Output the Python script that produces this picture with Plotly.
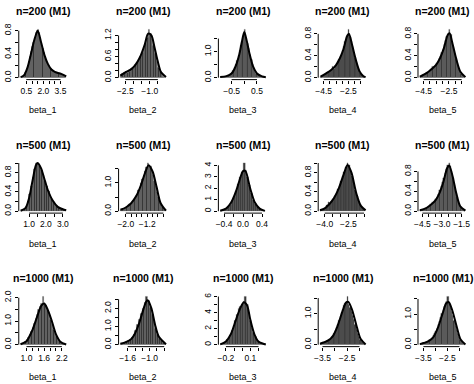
import plotly.graph_objects as go

# ---------------- data ----------------
SAMPLE_SIZES = [200, 500, 1000]
PARAMS = ["beta_1", "beta_2", "beta_3", "beta_4", "beta_5"]

# ---- n=200 ----
S200_B1, W200_B1 = 0.0, 0.1
H200_B1 = [0.01, 0.02, 0.03, 0.05, 0.09, 0.14, 0.20, 0.28, 0.36, 0.44, 0.53, 0.60, 0.68, 0.76, 0.80, 0.82,
           0.76, 0.68, 0.58, 0.50, 0.42, 0.36, 0.31, 0.26, 0.22, 0.19, 0.16, 0.14, 0.12, 0.10, 0.09, 0.08,
           0.08, 0.07, 0.07, 0.06, 0.05, 0.04, 0.03, 0.02]
DX200_B1 = [0.0, 0.3, 0.6, 0.9, 1.2, 1.5, 1.8, 2.1, 2.4, 2.7, 3.0, 3.3, 3.6, 4.0]
DY200_B1 = [0.01, 0.04, 0.17, 0.40, 0.64, 0.80, 0.60, 0.38, 0.23, 0.14, 0.10, 0.08, 0.06, 0.02]
XT200_B1 = [0.5, 1.0, 1.5, 2.0, 2.5, 3.0, 3.5]
XL200_B1 = ["0.5", "", "", "2.0", "", "", "3.5"]
YT200_B1 = [0.0, 0.2, 0.4, 0.6, 0.8]
YL200_B1 = ["0.0", "", "0.4", "", "0.8"]

S200_B2, W200_B2 = -2.8, 0.1
H200_B2 = [0.08, 0.12, 0.15, 0.17, 0.15, 0.18, 0.22, 0.27, 0.33, 0.38, 0.42, 0.50, 0.60, 0.70, 0.85, 0.98,
           1.15, 1.37, 1.25, 1.10, 0.90, 0.68, 0.45, 0.30, 0.17, 0.09, 0.04, 0.01]
DX200_B2 = [-2.8, -2.5, -2.2, -1.9, -1.6, -1.3, -1.1, -0.9, -0.7, -0.5, -0.3, 0.0]
DY200_B2 = [0.06, 0.15, 0.22, 0.35, 0.58, 0.95, 1.25, 1.20, 0.85, 0.45, 0.15, 0.02]
XT200_B2 = [-2.5, -2.0, -1.5, -1.0, -0.5]
XL200_B2 = ["\u22122.5", "", "", "\u22121.0", ""]
YT200_B2 = [0.0, 0.2, 0.4, 0.6, 0.8, 1.0, 1.2]
YL200_B2 = ["0.0", "", "", "0.6", "", "", "1.2"]

S200_B3, W200_B3 = -0.95, 0.05
H200_B3 = [0.03, 0.04, 0.05, 0.05, 0.06, 0.07, 0.09, 0.12, 0.15, 0.20, 0.28, 0.38, 0.50, 0.65, 0.85, 1.05,
           1.25, 1.40, 1.62, 1.85, 1.55, 1.30, 1.10, 0.90, 0.68, 0.50, 0.35, 0.25, 0.17, 0.12, 0.09, 0.07,
           0.05, 0.04, 0.03, 0.02]
DX200_B3 = [-0.95, -0.7, -0.5, -0.35, -0.2, -0.1, 0.0, 0.1, 0.2, 0.35, 0.5, 0.7, 0.85]
DY200_B3 = [0.03, 0.06, 0.16, 0.42, 0.88, 1.35, 1.75, 1.40, 0.95, 0.42, 0.16, 0.05, 0.02]
XT200_B3 = [-0.5, 0.0, 0.5]
XL200_B3 = ["\u22120.5", "", "0.5"]
YT200_B3 = [0.0, 0.5, 1.0, 1.5]
YL200_B3 = ["0.0", "", "1.0", ""]

S200_B4, W200_B4 = -4.8, 0.1
H200_B4 = [0.02, 0.03, 0.04, 0.05, 0.07, 0.08, 0.10, 0.11, 0.13, 0.15, 0.20, 0.17, 0.20, 0.25, 0.29, 0.33,
           0.38, 0.44, 0.50, 0.57, 0.66, 0.75, 0.78, 0.88, 0.76, 0.66, 0.56, 0.45, 0.36, 0.27, 0.20, 0.14,
           0.09, 0.06, 0.04, 0.02, 0.01]
DX200_B4 = [-4.75, -4.3, -3.9, -3.5, -3.2, -2.9, -2.6, -2.45, -2.2, -1.9, -1.6, -1.3, -1.1]
DY200_B4 = [0.02, 0.08, 0.14, 0.23, 0.35, 0.52, 0.76, 0.80, 0.60, 0.33, 0.12, 0.03, 0.01]
XT200_B4 = [-4.5, -4.0, -3.5, -3.0, -2.5, -2.0, -1.5]
XL200_B4 = ["\u22124.5", "", "", "", "\u22122.5", "", ""]
YT200_B4 = [0.0, 0.2, 0.4, 0.6, 0.8]
YL200_B4 = ["0.0", "", "0.4", "", "0.8"]

S200_B5, W200_B5 = -4.8, 0.1
H200_B5 = [0.02, 0.03, 0.05, 0.06, 0.07, 0.09, 0.10, 0.12, 0.14, 0.16, 0.20, 0.18, 0.21, 0.25, 0.29, 0.34,
           0.39, 0.45, 0.52, 0.60, 0.68, 0.76, 0.80, 0.88, 0.78, 0.66, 0.55, 0.44, 0.34, 0.25, 0.18, 0.12,
           0.08, 0.05, 0.03, 0.01]
DX200_B5 = [-4.8, -4.3, -3.9, -3.5, -3.2, -2.9, -2.6, -2.45, -2.2, -1.9, -1.6, -1.2]
DY200_B5 = [0.02, 0.08, 0.15, 0.24, 0.36, 0.54, 0.78, 0.81, 0.60, 0.32, 0.11, 0.01]
XT200_B5 = [-4.5, -4.0, -3.5, -3.0, -2.5, -2.0, -1.5]
XL200_B5 = ["\u22124.5", "", "", "", "\u22122.5", "", ""]
YT200_B5 = [0.0, 0.2, 0.4, 0.6, 0.8]
YL200_B5 = ["0.0", "", "0.4", "", "0.8"]

# ---- n=500 ----
S500_B1, W500_B1 = 0.5, 0.1
H500_B1 = [0.01, 0.02, 0.05, 0.10, 0.20, 0.35, 0.52, 0.70, 0.88, 1.00, 0.98, 0.94, 0.85, 0.74, 0.62, 0.52,
           0.42, 0.33, 0.25, 0.19, 0.14, 0.10, 0.07, 0.05, 0.04, 0.03, 0.02]
DX500_B1 = [0.5, 0.8, 1.0, 1.2, 1.4, 1.5, 1.7, 1.9, 2.1, 2.4, 2.7, 3.0, 3.2]
DY500_B1 = [0.01, 0.07, 0.27, 0.62, 0.95, 1.00, 0.90, 0.68, 0.45, 0.22, 0.09, 0.04, 0.02]
XT500_B1 = [1.0, 1.5, 2.0, 2.5, 3.0]
XL500_B1 = ["1.0", "", "2.0", "", "3.0"]
YT500_B1 = [0.0, 0.2, 0.4, 0.6, 0.8, 1.0]
YL500_B1 = ["0.0", "", "0.4", "", "0.8", ""]

S500_B2, W500_B2 = -2.2, 0.05
H500_B2 = [0.04, 0.06, 0.08, 0.10, 0.14, 0.20, 0.26, 0.24, 0.30, 0.36, 0.44, 0.52, 0.62, 0.74, 0.86, 1.00,
           1.14, 1.28, 1.42, 1.55, 1.70, 1.64, 1.58, 1.45, 1.28, 1.08, 0.88, 0.68, 0.50, 0.34, 0.22, 0.13,
           0.07, 0.03]
DX500_B2 = [-2.2, -2.0, -1.8, -1.6, -1.45, -1.3, -1.15, -1.0, -0.85, -0.7, -0.5]
DY500_B2 = [0.05, 0.13, 0.28, 0.55, 0.88, 1.30, 1.62, 1.40, 0.85, 0.28, 0.02]
XT500_B2 = [-2.0, -1.8, -1.6, -1.4, -1.2, -1.0, -0.8, -0.6]
XL500_B2 = ["\u22122.0", "", "", "", "\u22121.2", "", "", ""]
YT500_B2 = [0.0, 0.5, 1.0, 1.5]
YL500_B2 = ["0.0", "", "1.0", ""]

S500_B3, W500_B3 = -0.48, 0.04
H500_B3 = [0.05, 0.08, 0.13, 0.22, 0.35, 0.55, 0.85, 1.25, 1.75, 2.35, 2.95, 3.40, 4.20, 3.55, 2.95, 2.25,
           1.55, 1.00, 0.60, 0.35, 0.20, 0.10, 0.05, 0.02]
DX500_B3 = [-0.48, -0.35, -0.25, -0.15, -0.05, 0.0, 0.05, 0.15, 0.25, 0.35, 0.46]
DY500_B3 = [0.04, 0.25, 0.75, 1.70, 3.00, 3.50, 3.50, 2.00, 0.75, 0.22, 0.03]
XT500_B3 = [-0.4, -0.2, 0.0, 0.2, 0.4]
XL500_B3 = ["\u22120.4", "", "0.0", "", "0.4"]
YT500_B3 = [0, 1, 2, 3, 4]
YL500_B3 = ["0", "1", "2", "3", "4"]

S500_B4, W500_B4 = -4.3, 0.1
H500_B4 = [0.02, 0.03, 0.05, 0.07, 0.12, 0.18, 0.16, 0.20, 0.26, 0.32, 0.38, 0.45, 0.53, 0.62, 0.72, 0.82,
           0.92, 1.00, 0.95, 0.86, 0.72, 0.58, 0.44, 0.32, 0.22, 0.14, 0.08, 0.04, 0.02]
DX500_B4 = [-4.3, -4.0, -3.7, -3.4, -3.1, -2.8, -2.55, -2.3, -2.0, -1.7, -1.4]
DY500_B4 = [0.02, 0.06, 0.15, 0.28, 0.48, 0.76, 0.96, 0.80, 0.38, 0.11, 0.02]
XT500_B4 = [-4.0, -3.5, -3.0, -2.5, -2.0, -1.5]
XL500_B4 = ["\u22124.0", "", "", "\u22122.5", "", ""]
YT500_B4 = [0.0, 0.2, 0.4, 0.6, 0.8, 1.0]
YL500_B4 = ["0.0", "", "0.4", "", "0.8", ""]

S500_B5, W500_B5 = -4.7, 0.1
H500_B5 = [0.02, 0.03, 0.04, 0.05, 0.06, 0.07, 0.09, 0.11, 0.14, 0.18, 0.16, 0.20, 0.24, 0.29, 0.35, 0.42,
           0.50, 0.58, 0.67, 0.76, 0.85, 0.92, 0.97, 0.90, 0.80, 0.66, 0.52, 0.40, 0.29, 0.20, 0.13, 0.08,
           0.05, 0.03, 0.01]
DX500_B5 = [-4.7, -4.3, -3.9, -3.5, -3.2, -2.9, -2.6, -2.45, -2.2, -1.9, -1.6, -1.2]
DY500_B5 = [0.02, 0.05, 0.12, 0.22, 0.36, 0.58, 0.87, 0.92, 0.72, 0.36, 0.10, 0.01]
XT500_B5 = [-4.5, -4.0, -3.5, -3.0, -2.5, -2.0, -1.5]
XL500_B5 = ["\u22124.5", "", "", "\u22123.0", "", "", "\u22121.5"]
YT500_B5 = [0.0, 0.2, 0.4, 0.6, 0.8]
YL500_B5 = ["0.0", "", "0.4", "", "0.8"]

# ---- n=1000 ----
S1000_B1, W1000_B1 = 0.8, 0.05
H1000_B1 = [0.03, 0.05, 0.08, 0.13, 0.20, 0.30, 0.42, 0.55, 0.72, 0.90, 1.10, 1.30, 1.48, 1.62, 1.75, 2.05,
            1.72, 1.65, 1.45, 1.28, 1.05, 0.85, 0.65, 0.48, 0.34, 0.23, 0.15, 0.09, 0.05, 0.03, 0.01]
DX1000_B1 = [0.8, 1.0, 1.2, 1.35, 1.5, 1.6, 1.7, 1.85, 2.0, 2.15, 2.35]
DY1000_B1 = [0.02, 0.15, 0.62, 1.15, 1.65, 1.75, 1.55, 1.05, 0.45, 0.13, 0.01]
XT1000_B1 = [1.0, 1.2, 1.4, 1.6, 1.8, 2.0, 2.2]
XL1000_B1 = ["1.0", "", "", "1.6", "", "", "2.2"]
YT1000_B1 = [0.0, 0.5, 1.0, 1.5, 2.0]
YL1000_B1 = ["0.0", "", "1.0", "", "2.0"]

S1000_B2, W1000_B2 = -1.8, 0.05
H1000_B2 = [0.05, 0.08, 0.12, 0.15, 0.20, 0.28, 0.40, 0.58, 0.80, 1.08, 1.38, 1.70, 2.00, 2.30, 2.65, 2.40,
            2.05, 1.65, 1.25, 0.88, 0.58, 0.35, 0.20, 0.10, 0.04]
DX1000_B2 = [-1.8, -1.65, -1.5, -1.4, -1.3, -1.2, -1.1, -1.05, -0.95, -0.85, -0.75, -0.55]
DY1000_B2 = [0.05, 0.14, 0.32, 0.62, 1.10, 1.75, 2.35, 2.45, 2.00, 1.10, 0.45, 0.03]
XT1000_B2 = [-1.6, -1.4, -1.2, -1.0, -0.8, -0.6]
XL1000_B2 = ["\u22121.6", "", "", "\u22121.0", "", ""]
YT1000_B2 = [0.0, 0.5, 1.0, 1.5, 2.0, 2.5]
YL1000_B2 = ["0.0", "", "1.0", "", "2.0", ""]

S1000_B3, W1000_B3 = -0.27, 0.02
H1000_B3 = [0.05, 0.12, 0.25, 0.40, 0.60, 0.90, 1.30, 1.80, 2.40, 3.00, 3.70, 4.50, 4.70, 5.00, 5.40, 6.00,
            5.00, 4.00, 3.00, 2.10, 1.50, 1.00, 0.65, 0.40, 0.22, 0.12, 0.06, 0.02]
DX1000_B3 = [-0.27, -0.2, -0.14, -0.08, -0.03, 0.02, 0.06, 0.1, 0.15, 0.2, 0.29]
DY1000_B3 = [0.05, 0.40, 1.30, 3.00, 4.40, 5.30, 4.90, 3.10, 1.30, 0.40, 0.02]
XT1000_B3 = [-0.2, -0.1, 0.0, 0.1, 0.2]
XL1000_B3 = ["\u22120.2", "", "", "0.1", ""]
YT1000_B3 = [0, 1, 2, 3, 4, 5, 6]
YL1000_B3 = ["0", "", "2", "", "4", "", "6"]

S1000_B4, W1000_B4 = -3.6, 0.05
H1000_B4 = [0.03, 0.05, 0.07, 0.09, 0.10, 0.12, 0.14, 0.17, 0.20, 0.25, 0.30, 0.37, 0.45, 0.55, 0.66, 0.78,
            0.90, 1.02, 1.14, 1.25, 1.33, 1.38, 1.55, 1.30, 1.20, 1.08, 0.95, 0.80, 0.65, 0.50, 0.37, 0.26,
            0.17, 0.10, 0.06, 0.03, 0.01]
DX1000_B4 = [-3.6, -3.3, -3.1, -2.9, -2.7, -2.55, -2.45, -2.3, -2.1, -1.95, -1.75]
DY1000_B4 = [0.03, 0.12, 0.25, 0.58, 1.05, 1.35, 1.38, 1.12, 0.55, 0.18, 0.01]
XT1000_B4 = [-3.5, -3.0, -2.5, -2.0]
XL1000_B4 = ["\u22123.5", "", "\u22122.5", ""]
YT1000_B4 = [0.0, 0.5, 1.0, 1.5]
YL1000_B4 = ["0.0", "", "1.0", ""]

S1000_B5, W1000_B5 = -3.65, 0.05
H1000_B5 = [0.02, 0.04, 0.05, 0.07, 0.08, 0.10, 0.11, 0.13, 0.16, 0.19, 0.23, 0.29, 0.36, 0.44, 0.54, 0.65,
            0.77, 0.89, 1.01, 1.13, 1.24, 1.33, 1.40, 1.58, 1.32, 1.22, 1.09, 0.95, 0.80, 0.64, 0.49, 0.36,
            0.25, 0.16, 0.10, 0.06, 0.03, 0.01]
DX1000_B5 = [-3.65, -3.3, -3.1, -2.9, -2.7, -2.55, -2.45, -2.3, -2.1, -1.95, -1.75]
DY1000_B5 = [0.02, 0.11, 0.23, 0.55, 1.03, 1.36, 1.40, 1.13, 0.55, 0.17, 0.01]
XT1000_B5 = [-3.5, -3.0, -2.5, -2.0]
XL1000_B5 = ["\u22123.5", "", "\u22122.5", ""]
YT1000_B5 = [0.0, 0.5, 1.0, 1.5]
YL1000_B5 = ["0.0", "", "1.0", ""]

# ---------------- layout constants (pixels) ----------------
FIG_W, FIG_H = 474, 384
LEFT0, COL_STEP, PANEL_W = 15.0, 101.3, 50.0
TOP0, ROW_STEP, PANEL_H = 24.0, 136.0, 53.0
TITLE_Y0, XLAB_Y0 = 7.5, 108.0
BAR_COLOR = "#333333"
BAR_EDGE = "#6e6e6e"
FONT = "Liberation Sans, Arial, Helvetica, sans-serif"

g = globals()
fig = go.Figure()
shapes, annotations = [], []
layout = {}

k = 0
for r, n in enumerate(SAMPLE_SIZES):
    for c, p in enumerate(PARAMS):
        k += 1
        tag = f"{n}_B{c + 1}"
        start, width = g["S" + tag], g["W" + tag]
        heights = g["H" + tag]
        dx, dy = g["DX" + tag], g["DY" + tag]
        xt, xl = g["XT" + tag], g["XL" + tag]
        yt, yl = g["YT" + tag], g["YL" + tag]
        centers = [start + width * (i + 0.5) for i in range(len(heights))]
        end = start + width * len(heights)
        xr = [start - 0.04 * (end - start), end + 0.04 * (end - start)]
        ymax = max(heights)
        yr = [-0.04 * ymax, 1.04 * ymax]

        xa = "x" if k == 1 else f"x{k}"
        ya = "y" if k == 1 else f"y{k}"
        fig.add_trace(go.Bar(x=centers, y=heights, width=width, xaxis=xa, yaxis=ya,
                             marker=dict(color=BAR_COLOR, line=dict(color=BAR_EDGE, width=0.35)),
                             showlegend=False, hoverinfo="skip"))
        fig.add_trace(go.Scatter(x=dx, y=dy, mode="lines", xaxis=xa, yaxis=ya,
                                 line=dict(color="black", width=2, shape="spline", smoothing=0.8),
                                 showlegend=False, hoverinfo="skip"))

        left = LEFT0 + COL_STEP * c
        top = TOP0 + ROW_STEP * r
        xdom = [left / FIG_W, (left + PANEL_W) / FIG_W]
        ydom = [1 - (top + PANEL_H) / FIG_H, 1 - top / FIG_H]
        axn = "" if k == 1 else str(k)
        layout["xaxis" + axn] = dict(domain=xdom, anchor=ya, range=xr, tickvals=xt, ticktext=xl,
                                     ticks="outside", ticklen=3, tickwidth=1, tickcolor="black",
                                     showline=False, showgrid=False, zeroline=False,
                                     tickfont=dict(size=8.5, color="black", family=FONT))
        layout["yaxis" + axn] = dict(domain=ydom, anchor=xa, range=yr, tickvals=yt, ticktext=yl,
                                     ticks="outside", ticklen=3, tickwidth=1, tickcolor="black",
                                     tickangle=-90, showline=False, showgrid=False, zeroline=False,
                                     tickfont=dict(size=8.5, color="black", family=FONT))
        shapes.append(dict(type="line", xref=xa, yref=ya + " domain", x0=xt[0], x1=xt[-1], y0=0, y1=0,
                           line=dict(color="black", width=1)))
        shapes.append(dict(type="line", xref=xa + " domain", yref=ya, x0=0, x1=0, y0=yt[0], y1=yt[-1],
                           line=dict(color="black", width=1)))
        xc = (left + PANEL_W / 2) / FIG_W
        annotations.append(dict(text=f"<b>n={n} (M1)</b>", xref="paper", yref="paper", x=xc,
                                y=1 - (TITLE_Y0 + ROW_STEP * r) / FIG_H, xanchor="center", yanchor="middle",
                                showarrow=False, font=dict(size=10.5, color="black", family=FONT)))
        annotations.append(dict(text=p, xref="paper", yref="paper", x=xc,
                                y=1 - (XLAB_Y0 + ROW_STEP * r) / FIG_H, xanchor="center", yanchor="middle",
                                showarrow=False, font=dict(size=9, color="black", family=FONT)))

fig.update_layout(width=FIG_W, height=FIG_H, margin=dict(l=0, r=0, t=0, b=0),
                  paper_bgcolor="white", plot_bgcolor="white", bargap=0,
                  shapes=shapes, annotations=annotations, **layout)
fig.write_html("out.html", config={"displayModeBar": False},
               post_script="document.body.style.margin='0px';")
